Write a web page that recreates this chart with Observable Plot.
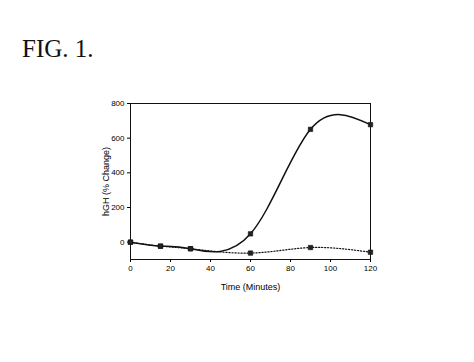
<!DOCTYPE html>
<html>
<head>
<meta charset="utf-8">
<script src="https://cdn.jsdelivr.net/npm/d3@7"></script>
<script src="https://cdn.jsdelivr.net/npm/@observablehq/plot@0.6"></script>
<style>
  html, body { margin: 0; padding: 0; background: #fff; }
  #wrap { width: 474px; height: 362px; position: relative; overflow: hidden; }
  #title { height: 70px; box-sizing: border-box; padding-left: 22px; padding-top: 36px;
           font: 25px/25px "Liberation Serif", "Times New Roman", serif; color: #111; }
  svg { display: block; }
</style>
</head>
<body>
<div id="wrap">
  <div id="title">FIG. 1.</div>
  <div id="chart"></div>
</div>
<script>
const times = [0, 15, 30, 60, 90, 120];
const treated = [0, -23, -38, 48, 651, 678];
const control = [0, -23, -38, -63, -31, -58];
const xTicks = [0, 20, 40, 60, 80, 100, 120];
const yTicks = [0, 200, 400, 600, 800];

const treatedData = times.map((t, i) => ({t, v: treated[i]}));
const controlData = times.map((t, i) => ({t, v: control[i]}));

const chart = Plot.plot({
  width: 474,
  height: 292,
  marginLeft: 130,
  marginRight: 104,
  marginTop: 33,
  marginBottom: 103,
  style: {fontFamily: "'Liberation Sans', Arial, sans-serif", fontSize: "8px", color: "#000", background: "#fff"},
  x: {domain: [0, 120]},
  y: {domain: [-100, 800]},
  marks: [
    Plot.axisX({ticks: xTicks, tickSize: 3, tickPadding: 3, fontSize: 8,
      label: "Time (Minutes)", labelAnchor: "center", labelOffset: 30, labelArrow: "none"}),
    Plot.axisY({ticks: yTicks, tickSize: 3, tickPadding: 3, fontSize: 8,
      label: "hGH (% Change)", labelAnchor: "center", labelOffset: 28, labelArrow: "none"}),
    Plot.frame({stroke: "#111", strokeWidth: 1}),
    Plot.line(controlData, {x: "t", y: "v", curve: "natural", stroke: "#111", strokeWidth: 1.2, strokeDasharray: "1.2,1.8"}),
    Plot.line(treatedData, {x: "t", y: "v", curve: "natural", stroke: "#111", strokeWidth: 1.5}),
    Plot.dot(controlData, {x: "t", y: "v", symbol: "square", r: 2.5, fill: "#222", stroke: "#111", strokeWidth: 0.6}),
    Plot.dot(treatedData, {x: "t", y: "v", symbol: "square", r: 2.5, fill: "#222", stroke: "#111", strokeWidth: 0.6})
  ]
});
chart.querySelectorAll('g[aria-label="x-axis label"] text, g[aria-label="y-axis label"] text').forEach(t => t.setAttribute("font-size", "9"));
document.getElementById("chart").appendChild(chart);
</script>
</body>
</html>
